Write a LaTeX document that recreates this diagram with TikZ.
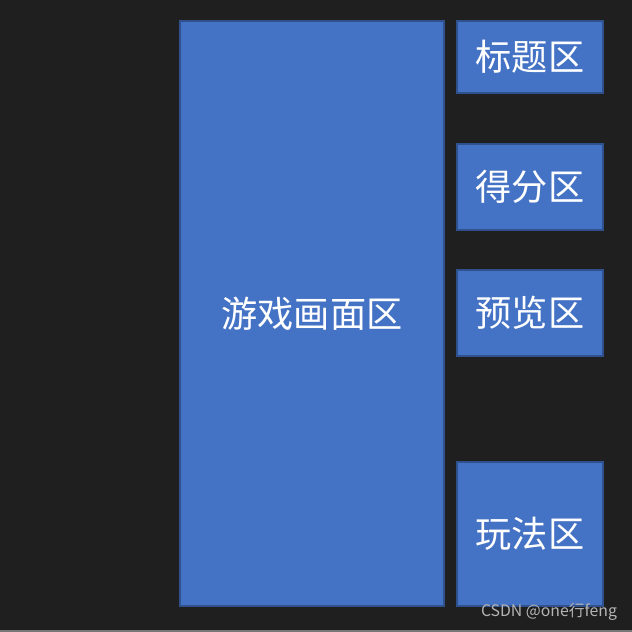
\documentclass[tikz,border=0pt]{standalone}
\usepackage{fontspec}
\newfontfamily\cjk{Noto Sans CJK SC}
\usetikzlibrary{positioning}
\definecolor{screen}{HTML}{1F1F1F}
\definecolor{areablue}{HTML}{4472C4}
\definecolor{areaedge}{HTML}{2F528F}
\definecolor{markgray}{HTML}{B4B4B4}
\tikzstyle{area}=[draw=areaedge, fill=areablue, line width=0.1cm, inner sep=0pt,
  text=white, font=\cjk\fontsize{51.5}{51.5}\selectfont]
\tikzstyle{side area}=[area, minimum width=7.3cm]

\begin{document}
\begin{tikzpicture}[x=0.05cm,y=-0.05cm]

    % Screen
    \fill[screen] (0,0) rectangle (632,632);
    \useasboundingbox (0,0) rectangle (632,632);
    \fill[markgray!60!screen] (0,630) rectangle (632,632);

    % Areas
    \draw (312,313.5) node[area, minimum width=13.2cm, minimum height=29.25cm] (game) {游戏画面区};
    \draw (530,57) node[side area, minimum height=3.6cm] (title) {标题区};
    \draw (530,187) node[side area, minimum height=4.3cm] (score) {得分区};
    \draw (530,313) node[side area, minimum height=4.3cm] (preview) {预览区};
    \draw (530,534) node[side area, minimum height=7.2cm] (play) {玩法区};

    % Mark
    \draw (549,612) node[text=markgray, font=\cjk\fontsize{22.5}{22.5}\selectfont, inner sep=0pt] (mark) {CSDN @one行feng};

\end{tikzpicture}
\end{document}
